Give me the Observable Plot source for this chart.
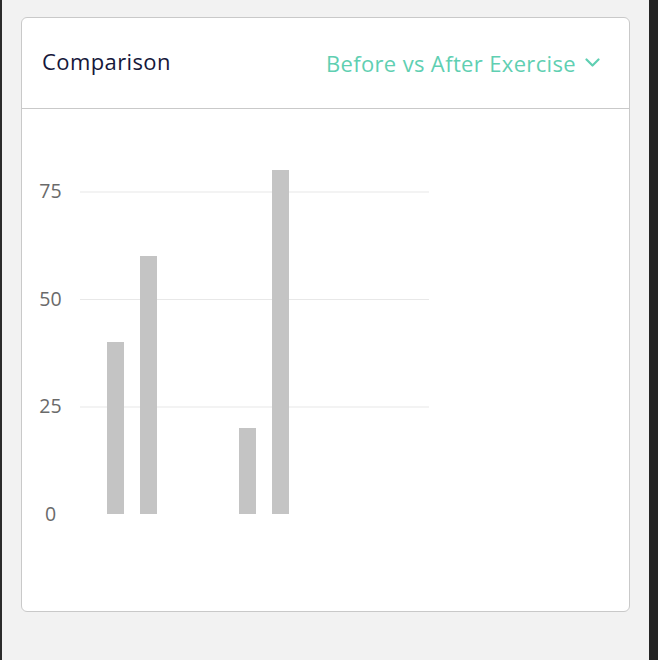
<!DOCTYPE html>
<html>
<head>
<meta charset="utf-8">
<script src="https://cdn.jsdelivr.net/npm/d3@7"></script>
<script src="https://cdn.jsdelivr.net/npm/@observablehq/plot@0.6"></script>
<style>
  html, body { margin: 0; padding: 0; }
  body { width: 658px; height: 660px; background: #f2f2f2; position: relative; overflow: hidden; font-family: "Open Sans", Lato, sans-serif; }
  .strip-l { position: absolute; left: 0; top: 0; width: 2px; height: 660px; background: #2b2b2b; }
  .strip-r { position: absolute; left: 649px; top: 0; width: 9px; height: 660px; background: #242424; }
  .card { position: absolute; left: 21px; top: 17px; width: 607px; height: 593px; background: #fff; border: 1px solid #c9c9c9; border-radius: 6px; box-sizing: content-box; }
  .header { position: absolute; left: 0; top: 0; width: 100%; height: 90px; border-bottom: 1px solid #c9c9c9; }
  .title { position: absolute; left: 20px; top: 28px; font-size: 22px; letter-spacing: 0.4px; color: #15173a; line-height: normal; white-space: nowrap; }
  .menu { position: absolute; right: 29px; top: 30px; font-size: 22px; letter-spacing: 0.35px; color: #5fcfb2; display: flex; align-items: center; gap: 9px; white-space: nowrap; line-height: normal; }
  #chart { position: absolute; left: 0; top: 92px; }
</style>
</head>
<body>
<div class="strip-l"></div>
<div class="strip-r"></div>
<div class="card">
  <div class="header">
    <div class="title">Comparison</div>
    <div class="menu"><span>Before vs After Exercise</span>
      <svg width="15" height="10" viewBox="0 0 15 10"><polyline points="1.5,1.5 7.5,7.5 13.5,1.5" fill="none" stroke="#5fcfb2" stroke-width="2.2" stroke-linecap="round" stroke-linejoin="round"/></svg>
    </div>
  </div>
  <div id="chart"></div>
</div>
<script>
const groups = ["Group A", "Group B"];
const phases = ["Before", "After"];
const beforeValues = [40, 20];
const afterValues = [60, 80];
const yTicks = [0, 25, 50, 75];
const gridTicks = [25, 50, 75];

const rows = [];
groups.forEach((g, i) => {
  rows.push({key: g + " " + phases[0], value: beforeValues[i]});
  rows.push({key: g + " " + phases[1], value: afterValues[i]});
});
// band domain with two empty slots between the groups
const xDomain = [rows[0].key, rows[1].key, "gap1", "gap2", rows[2].key, rows[3].key];

const chart = Plot.plot({
  width: 607,
  height: 440,
  marginTop: 60,
  marginBottom: 36,
  marginLeft: 58,
  marginRight: 200,
  style: {fontFamily: "'Open Sans', Lato, sans-serif", background: "transparent", overflow: "visible"},
  x: {domain: xDomain, range: [67, 284], paddingInner: 0.5, paddingOuter: 0.5, axis: null},
  y: {domain: [0, 80], axis: null},
  marks: [
    Plot.ruleY(gridTicks, {stroke: "#e8e8e8", strokeWidth: 1.2}),
    Plot.barY(rows, {x: "key", y: "value", fill: "#c4c4c4"}),
    Plot.axisY(yTicks, {tickSize: 0, tickPadding: 30, textAnchor: "middle", fontSize: 19.5, fill: "#6a6a6a", label: null, tickFormat: d => d})
  ]
});
document.getElementById("chart").appendChild(chart);
</script>
</body>
</html>
